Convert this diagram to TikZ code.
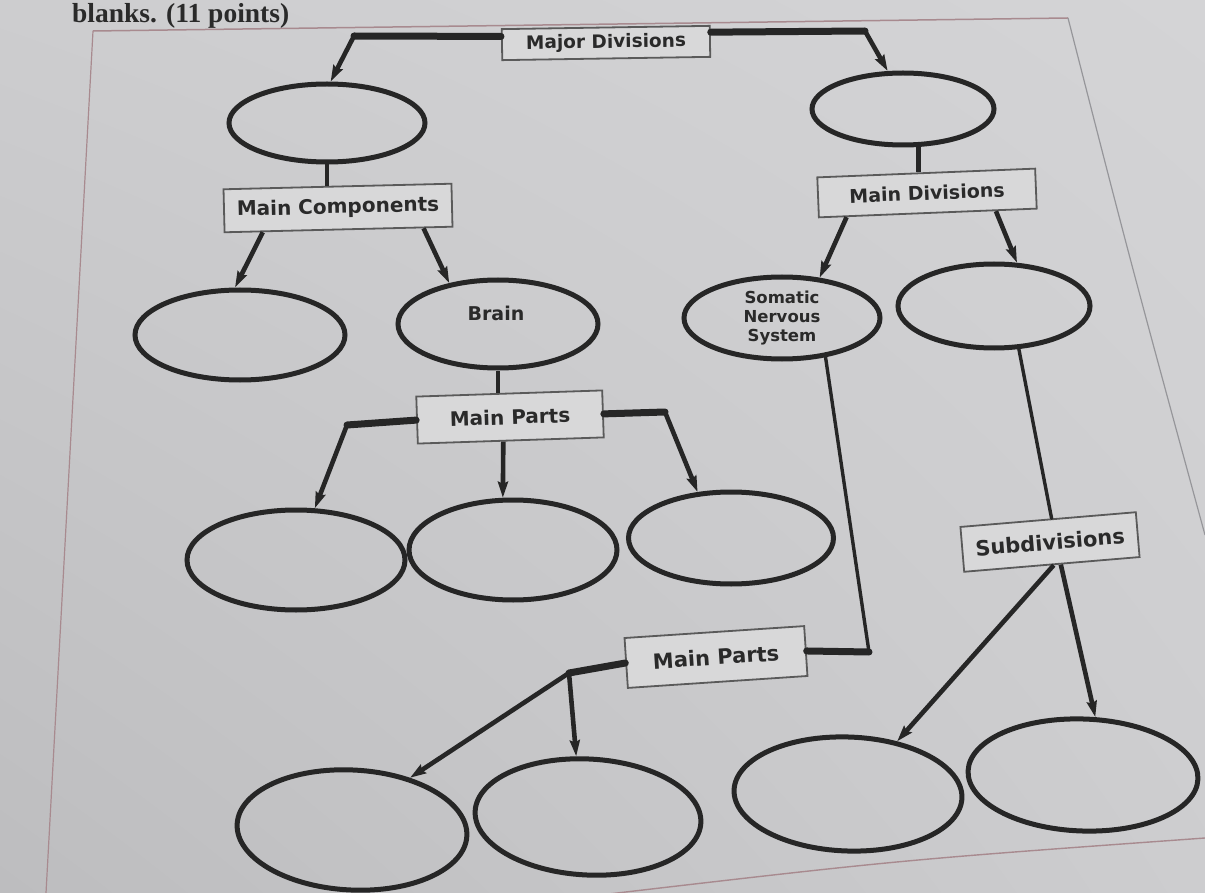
\documentclass[tikz,border=0pt]{standalone}
\usepackage{fontspec}
\setmainfont{Liberation Serif}
\newfontfamily\dvs{DejaVu Sans}
\usetikzlibrary{arrows.meta,calc,shapes.geometric,shadings}
\definecolor{paperA}{HTML}{CDCDCF}
\definecolor{paperB}{HTML}{BDBDBF}
\definecolor{paperC}{HTML}{D4D4D6}
\definecolor{ink}{HTML}{262626}
\definecolor{txt}{HTML}{2A2A2A}
\definecolor{boxline}{HTML}{5A5A5A}
\definecolor{boxfill}{HTML}{D8D8D9}
\definecolor{redline}{HTML}{A88A8F}
\definecolor{grayline}{HTML}{96969A}
\begin{document}
\begin{tikzpicture}[x=1pt,y=-1pt,
  oval/.style={ellipse,draw=ink,line width=5pt,inner sep=0pt},
  lab/.style={draw=boxline,line width=1.8pt,fill=boxfill,inner sep=0pt,text=txt,
    font=\dvs\bfseries\fontsize{20}{22}\selectfont},
  conn/.style={draw=ink,line width=4.6pt,-{Stealth[length=16pt,width=10pt,inset=2pt]}},
  plain/.style={draw=ink,line width=4.6pt},
  thinline/.style={draw=ink,line width=3.4pt,line cap=round},
  heavy/.style={draw=ink,line width=7pt,line cap=round},
]
\useasboundingbox (0,0) rectangle (1205,893);
\shade[upper left=paperA,upper right=paperC,lower left=paperB,lower right=paperA] (0,0) rectangle (1205,893);

% page frame
\draw[redline,line width=1.5pt] (93,31) -- (1068,18);
\draw[redline,line width=1.2pt] (93,31) -- (46,893);
\draw[grayline,line width=1.2pt] (1068,18) .. controls (1130,260) .. (1205,535);
\draw[redline,line width=1.4pt] (600,895) .. controls (900,860) .. (1205,838);

% header text
\node[anchor=base west,inner sep=0pt,text=txt,font=\bfseries\fontsize{27.5}{30}\selectfont] (hdr) at (72,23) {blanks. (11 points)};

% ellipses
\node[oval,minimum width=196pt,minimum height=78pt] (e1) at (327,123) {};
\node[oval,minimum width=182pt,minimum height=72pt] (e2) at (903,109) {};
\node[oval,minimum width=210pt,minimum height=90pt] (e3) at (240,335) {};
\node[oval,minimum width=200pt,minimum height=88pt] (brain) at (498,324) {};
\node[oval,minimum width=196pt,minimum height=82pt,align=center,text=txt,
  font=\dvs\bfseries\fontsize{16.5}{19}\selectfont] (sns) at (782,318) {Somatic\\Nervous\\System};
\node[oval,minimum width=192pt,minimum height=84pt] (e4) at (994,306) {};
\node[oval,minimum width=218pt,minimum height=100pt] (e5) at (296,560) {};
\node[oval,minimum width=208pt,minimum height=100pt] (e6) at (513,550) {};
\node[oval,minimum width=205pt,minimum height=92pt] (e7) at (731,538) {};
\node[oval,minimum width=230pt,minimum height=120pt,rotate=-3] (e8) at (352,830) {};
\node[oval,minimum width=226pt,minimum height=116pt,rotate=-3] (e9) at (588,817) {};
\node[oval,minimum width=228pt,minimum height=114pt,rotate=-2] (e10) at (848,794) {};
\node[oval,minimum width=230pt,minimum height=112pt,rotate=-2] (e11) at (1083,775) {};
\node[inner sep=0pt,text=txt,font=\dvs\bfseries\fontsize{19}{21}\selectfont] (brainlbl) at (496,313) {Brain};

% boxes
\node[lab,minimum width=208pt,minimum height=31pt,rotate=0.9,
  font=\dvs\bfseries\fontsize{18.5}{20}\selectfont] (bmaj) at (606,43) {Major Divisions};
\node[lab,minimum width=228pt,minimum height=43pt,rotate=1.4] (bmc) at (338,208) {Main Components};
\node[lab,minimum width=218pt,minimum height=40pt,rotate=2.3,
  font=\dvs\bfseries\fontsize{19}{21}\selectfont] (bmdiv) at (927,193) {Main Divisions};
\node[lab,minimum width=186pt,minimum height=47pt,rotate=1.9] (bmp1) at (510,417) {Main Parts};
\node[lab,minimum width=180pt,minimum height=50pt,rotate=3.8,
  font=\dvs\bfseries\fontsize{21}{23}\selectfont] (bmp2) at (716,657) {Main Parts};
\node[lab,minimum width=176pt,minimum height=45pt,rotate=4.8,
  font=\dvs\bfseries\fontsize{21}{23}\selectfont] (bsub) at (1050,542) {Subdivisions};

% connectors: Major Divisions
\coordinate (m1) at (354,36);
\coordinate (m2) at (865,31);
\draw[heavy] ($(bmaj.north west)!0.25!(bmaj.south west)$) -- (m1);
\draw[conn] (m1) -- (e1.85);
\draw[heavy] ($(bmaj.north east)!0.22!(bmaj.south east)$) -- (m2);
\draw[conn] (m2) -- (e2.112);

% Main Components
\draw[plain] (e1.south) -- (e1.south |- bmc.north);
\draw[conn] ($(bmc.south west)!0.17!(bmc.south east)$) -- (e3.96);
\draw[conn] ($(bmc.south west)!0.87!(bmc.south east)$) -- (brain.140);

% Main Divisions
\draw[plain] (e2.-68) -- (e2.-68 |- bmdiv.north);
\draw[conn] ($(bmdiv.south west)!0.13!(bmdiv.south east)$) -- (sns.47);
\draw[conn] ($(bmdiv.south west)!0.81!(bmdiv.south east)$) -- (e4.62);

% Brain - Main Parts
\draw[plain] (brain.south) -- (brain.south |- bmp1.north);
\coordinate (p1) at (347,425);
\coordinate (p2) at (665,412);
\draw[heavy] (bmp1.west) -- (p1);
\draw[conn] (p1) -- (e5.70);
\draw[conn] ($(bmp1.south west)!0.46!(bmp1.south east)$) -- (e6.101);
\draw[heavy] (bmp1.east) -- (p2);
\draw[conn] (p2) -- (e7.126);

% Somatic - Main Parts
\coordinate (s1) at (869,652);
\draw[thinline] (sns.-42) -- (s1);
\draw[heavy] (s1) -- (bmp2.east);
\coordinate (q1) at (569,673);
\draw[heavy] (bmp2.west) -- (q1);
\draw[conn] (q1) -- (e8.45);
\draw[conn] (q1) -- (e9.104);

% Subdivisions
\draw[thinline] (e4.-60) -- ($(bsub.north west)!0.52!(bsub.north east)$);
\draw[conn] ($(bsub.south west)!0.51!(bsub.south east)$) -- (e10.49);
\draw[conn] ($(bsub.south west)!0.55!(bsub.south east)$) -- (e11.80);
\end{tikzpicture}
\end{document}
